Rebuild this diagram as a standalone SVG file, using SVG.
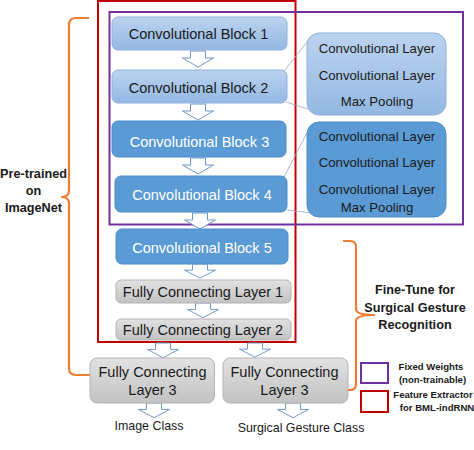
<svg xmlns="http://www.w3.org/2000/svg" width="474" height="450" viewBox="0 0 474 450">
<defs>
<linearGradient id="gLight" x1="0" y1="0" x2="0" y2="1">
<stop offset="0" stop-color="#bcd3ef"/><stop offset="1" stop-color="#93b8e3"/>
</linearGradient>
<linearGradient id="gGray" x1="0" y1="0" x2="0" y2="1">
<stop offset="0" stop-color="#e2e2e2"/><stop offset="1" stop-color="#c2c2c2"/>
</linearGradient>
<path id="arr" d="M-7.5,0 H7.5 V7 H15.5 L0,16 L-15.5,7 H-7.5 Z"/>
</defs>
<style>
.light{fill:url(#gLight);stroke:#8fb1dc;stroke-width:1}
.dark{fill:#5b9bd5;stroke:#4d8ccb;stroke-width:1}
.gray{fill:url(#gGray);stroke:#b3b3b3;stroke-width:1}
.t{font-family:"Liberation Sans",Arial,sans-serif;font-size:14.5px;text-anchor:middle;fill:#1a1a1a}
.tw{fill:#ffffff}
.ts{font-family:"Liberation Sans",Arial,sans-serif;font-size:13.2px;text-anchor:middle;fill:#1a1a1a}
.tb{font-family:"Liberation Sans",Arial,sans-serif;font-size:12.7px;font-weight:bold;text-anchor:middle;fill:#1a1a1a}
.tl{font-family:"Liberation Sans",Arial,sans-serif;font-size:9.6px;font-weight:bold;text-anchor:middle;fill:#1a1a1a}
.tc{font-family:"Liberation Sans",Arial,sans-serif;font-size:12.4px;text-anchor:middle;fill:#1a1a1a}
.arrow{fill:#ffffff;stroke:#6f93c6;stroke-width:1}
.link{fill:none;stroke:#9aa7b8;stroke-width:0.8}
.brace{fill:none;stroke:#ed7d31;stroke-width:2.2;stroke-linejoin:round}
</style>

<rect x="0" y="0" width="474" height="450" fill="#ffffff"/>

<g id="brackets">
<path class="brace" d="M89,18 H76 Q69,18 69,25 V190 Q69,197 62,197 Q69,197 69,204 V368 Q69,375 76,375 H90"/>
<path class="brace" d="M343,241 H350 Q356,241 356,247 V309 Q356,315 374,315 Q356,315 356,321 V384 Q356,390 350,390 H345"/>
</g>

<g id="frames">
<rect x="98" y="1" width="197.5" height="341" fill="none" stroke="#c00000" stroke-width="2"/>
<rect x="109.5" y="12" width="353.5" height="212.5" fill="none" stroke="#7030a0" stroke-width="2"/>
</g>

<g id="connectors">
<line class="link" x1="284" y1="71" x2="311" y2="37"/>
<line class="link" x1="286" y1="102" x2="311" y2="110"/>
<line class="link" x1="284" y1="177" x2="311" y2="125"/>
<line class="link" x1="287" y1="210" x2="311" y2="213"/>
<use href="#arr" class="arrow" transform="translate(198,51)"/>
<use href="#arr" class="arrow" transform="translate(198,104)"/>
<use href="#arr" class="arrow" transform="translate(198,158)"/>
<use href="#arr" class="arrow" transform="translate(200,213)"/>
<use href="#arr" class="arrow" transform="translate(200,264) scale(1,0.88)"/>
<use href="#arr" class="arrow" transform="translate(203,303) scale(1,0.92)"/>
<use href="#arr" class="arrow" transform="translate(163,343) scale(1,0.92)"/>
<use href="#arr" class="arrow" transform="translate(255,343) scale(1,0.88)"/>
<use href="#arr" class="arrow" transform="translate(154,403) scale(1,0.92)"/>
<use href="#arr" class="arrow" transform="translate(293,403) scale(1,0.92)"/>
</g>

<g id="block1">
<rect class="light" x="112" y="17" width="175" height="33" rx="6"/>
<text class="t" x="198.5" y="39">Convolutional Block 1</text>
</g>
<g id="block2">
<rect class="light" x="112" y="70" width="175" height="33" rx="6"/>
<text class="t" x="198.5" y="93">Convolutional Block 2</text>
</g>
<g id="block3">
<rect class="dark" x="112" y="121" width="174" height="36" rx="6"/>
<text class="t tw" x="199.5" y="147">Convolutional Block 3</text>
</g>
<g id="block4">
<rect class="dark" x="115" y="176" width="172" height="36" rx="6"/>
<text class="t tw" x="202" y="200">Convolutional Block 4</text>
</g>
<g id="block5">
<rect class="dark" x="116" y="229" width="172" height="35" rx="6"/>
<text class="t tw" x="202" y="253">Convolutional Block 5</text>
</g>
<g id="fc1">
<rect class="gray" x="116" y="280" width="175" height="23" rx="5"/>
<text class="t" x="203" y="297">Fully Connecting Layer 1</text>
</g>
<g id="fc2">
<rect class="gray" x="116" y="319" width="175" height="21" rx="5"/>
<text class="t" x="203" y="335">Fully Connecting Layer 2</text>
</g>
<g id="fc3a">
<rect class="gray" x="90" y="358" width="124.5" height="45" rx="7"/>
<text class="t" x="152.5" y="377">Fully Connecting</text>
<text class="t" x="152.5" y="395">Layer 3</text>
</g>
<g id="fc3b">
<rect class="gray" x="223" y="358" width="125" height="45" rx="7"/>
<text class="t" x="284.5" y="377">Fully Connecting</text>
<text class="t" x="284.5" y="395">Layer 3</text>
</g>

<g id="detail1">
<rect class="light" x="307" y="33" width="139" height="82" rx="12"/>
<text class="ts" x="377" y="52.5">Convolutional Layer</text>
<text class="ts" x="377" y="79.5">Convolutional Layer</text>
<text class="ts" x="377" y="106">Max Pooling</text>
</g>
<g id="detail2">
<rect class="dark" x="307" y="122" width="139" height="95" rx="12"/>
<text class="ts" x="377" y="141">Convolutional Layer</text>
<text class="ts" x="377" y="166.5">Convolutional Layer</text>
<text class="ts" x="377" y="194">Convolutional Layer</text>
<text class="ts" x="377" y="212">Max Pooling</text>
</g>

<g id="label-pretrained">
<text class="tb" x="33.5" y="178">Pre-trained</text>
<text class="tb" x="33.5" y="195">on</text>
<text class="tb" x="33.5" y="212">ImageNet</text>
</g>
<g id="label-finetune">
<text class="tb" x="415" y="294">Fine-Tune for</text>
<text class="tb" x="415" y="312">Surgical Gesture</text>
<text class="tb" x="415" y="329">Recognition</text>
</g>

<g id="legend">
<rect x="361" y="363" width="27" height="20" fill="none" stroke="#7030a0" stroke-width="2"/>
<rect x="361" y="391" width="27" height="21" fill="none" stroke="#c00000" stroke-width="2"/>
<text class="tl" x="431" y="370">Fixed Weights</text>
<text class="tl" x="432.5" y="383">(non-trainable)</text>
<text class="tl" x="433" y="398">Feature Extractor</text>
<text class="tl" x="437" y="411">for BML-indRNN</text>
</g>

<g id="outputs">
<text class="tc" x="149" y="430">Image Class</text>
<text class="tc" x="301" y="431.5">Surgical Gesture Class</text>
</g>
</svg>
